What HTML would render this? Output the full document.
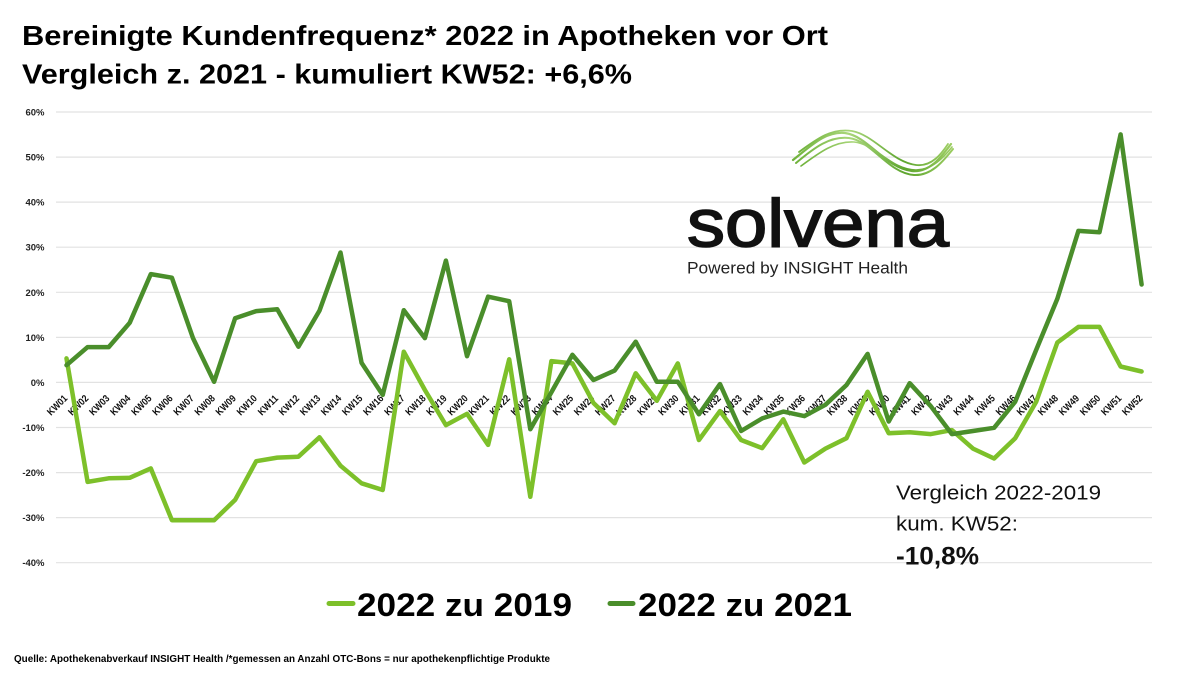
<!DOCTYPE html>
<html>
<head>
<meta charset="utf-8">
<style>
  html, body { margin: 0; padding: 0; background: #ffffff; }
  svg { display: block; }
  text { font-family: "Liberation Sans", sans-serif; }
</style>
</head>
<body>
<svg width="1200" height="675" viewBox="0 0 1200 675" xmlns="http://www.w3.org/2000/svg">
  <defs>
    <linearGradient id="wg" x1="0" y1="0" x2="1" y2="0">
      <stop offset="0" stop-color="#6fb23a"/>
      <stop offset="0.35" stop-color="#a9d67a"/>
      <stop offset="0.7" stop-color="#5da52e"/>
      <stop offset="1" stop-color="#9ccd62"/>
    </linearGradient>
  </defs>
  <rect width="1200" height="675" fill="#ffffff"/>

  <!-- Title -->
  <text x="22" y="45" font-size="28" font-weight="bold" fill="#000" textLength="806" lengthAdjust="spacingAndGlyphs">Bereinigte Kundenfrequenz* 2022 in Apotheken vor Ort</text>
  <text x="22" y="83.5" font-size="28" font-weight="bold" fill="#000" textLength="610" lengthAdjust="spacingAndGlyphs">Vergleich z. 2021 - kumuliert KW52: +6,6%</text>

  <!-- Gridlines -->
  <g stroke="#e2e2e2" stroke-width="1.2">
    <line x1="56" y1="112.0" x2="1152" y2="112.0"/>
    <line x1="56" y1="157.1" x2="1152" y2="157.1"/>
    <line x1="56" y1="202.1" x2="1152" y2="202.1"/>
    <line x1="56" y1="247.2" x2="1152" y2="247.2"/>
    <line x1="56" y1="292.3" x2="1152" y2="292.3"/>
    <line x1="56" y1="337.4" x2="1152" y2="337.4"/>
    <line x1="56" y1="382.4" x2="1152" y2="382.4"/>
    <line x1="56" y1="427.5" x2="1152" y2="427.5"/>
    <line x1="56" y1="472.6" x2="1152" y2="472.6"/>
    <line x1="56" y1="517.6" x2="1152" y2="517.6"/>
    <line x1="56" y1="562.7" x2="1152" y2="562.7"/>
  </g>

  <!-- Y labels -->
  <g font-size="9.5" font-weight="bold" fill="#222" text-anchor="end">
    <text x="44.5" y="115.5">60%</text>
    <text x="44.5" y="160.6">50%</text>
    <text x="44.5" y="205.6">40%</text>
    <text x="44.5" y="250.7">30%</text>
    <text x="44.5" y="295.8">20%</text>
    <text x="44.5" y="340.9">10%</text>
    <text x="44.5" y="385.9">0%</text>
    <text x="44.5" y="431.0">-10%</text>
    <text x="44.5" y="476.1">-20%</text>
    <text x="44.5" y="521.1">-30%</text>
    <text x="44.5" y="566.2">-40%</text>
  </g>

  <!-- Logo -->
  <g fill="none" stroke="url(#wg)" stroke-linecap="round">
    <path d="M793,160 C812,145 826,131 845,133 C868,136 885,168 912,171 C930,173 942,156 951,144" stroke-width="2.2"/>
    <path d="M796,163 C815,147 830,136 849,138 C872,141 888,173 914,175 C932,176 944,160 953,149" stroke-width="2"/>
    <path d="M799,152 C818,138 832,128 852,131 C874,135 892,162 916,165 C932,167 942,153 948,144" stroke-width="1.8"/>
    <path d="M801,166 C820,152 835,141 854,142 C876,144 891,170 916,170 C932,170 944,157 952,147" stroke-width="1.6"/>
  </g>
  <text x="687" y="246.7" font-size="68" fill="#111" stroke="#111" stroke-width="1.6" textLength="262" lengthAdjust="spacingAndGlyphs">solvena</text>
  <text x="687" y="273.5" font-size="16.5" fill="#222" textLength="221" lengthAdjust="spacingAndGlyphs">Powered by INSIGHT Health</text>

  <!-- X labels -->
  <g font-size="10" font-weight="bold" fill="#111" text-anchor="end">
    <text transform="translate(68.0,399) rotate(-45)" textLength="24" lengthAdjust="spacingAndGlyphs">KW01</text>
    <text transform="translate(89.1,399) rotate(-45)" textLength="24" lengthAdjust="spacingAndGlyphs">KW02</text>
    <text transform="translate(110.2,399) rotate(-45)" textLength="24" lengthAdjust="spacingAndGlyphs">KW03</text>
    <text transform="translate(131.2,399) rotate(-45)" textLength="24" lengthAdjust="spacingAndGlyphs">KW04</text>
    <text transform="translate(152.3,399) rotate(-45)" textLength="24" lengthAdjust="spacingAndGlyphs">KW05</text>
    <text transform="translate(173.4,399) rotate(-45)" textLength="24" lengthAdjust="spacingAndGlyphs">KW06</text>
    <text transform="translate(194.5,399) rotate(-45)" textLength="24" lengthAdjust="spacingAndGlyphs">KW07</text>
    <text transform="translate(215.6,399) rotate(-45)" textLength="24" lengthAdjust="spacingAndGlyphs">KW08</text>
    <text transform="translate(236.6,399) rotate(-45)" textLength="24" lengthAdjust="spacingAndGlyphs">KW09</text>
    <text transform="translate(257.7,399) rotate(-45)" textLength="24" lengthAdjust="spacingAndGlyphs">KW10</text>
    <text transform="translate(278.8,399) rotate(-45)" textLength="24" lengthAdjust="spacingAndGlyphs">KW11</text>
    <text transform="translate(299.9,399) rotate(-45)" textLength="24" lengthAdjust="spacingAndGlyphs">KW12</text>
    <text transform="translate(321.0,399) rotate(-45)" textLength="24" lengthAdjust="spacingAndGlyphs">KW13</text>
    <text transform="translate(342.0,399) rotate(-45)" textLength="24" lengthAdjust="spacingAndGlyphs">KW14</text>
    <text transform="translate(363.1,399) rotate(-45)" textLength="24" lengthAdjust="spacingAndGlyphs">KW15</text>
    <text transform="translate(384.2,399) rotate(-45)" textLength="24" lengthAdjust="spacingAndGlyphs">KW16</text>
    <text transform="translate(405.3,399) rotate(-45)" textLength="24" lengthAdjust="spacingAndGlyphs">KW17</text>
    <text transform="translate(426.4,399) rotate(-45)" textLength="24" lengthAdjust="spacingAndGlyphs">KW18</text>
    <text transform="translate(447.4,399) rotate(-45)" textLength="24" lengthAdjust="spacingAndGlyphs">KW19</text>
    <text transform="translate(468.5,399) rotate(-45)" textLength="24" lengthAdjust="spacingAndGlyphs">KW20</text>
    <text transform="translate(489.6,399) rotate(-45)" textLength="24" lengthAdjust="spacingAndGlyphs">KW21</text>
    <text transform="translate(510.7,399) rotate(-45)" textLength="24" lengthAdjust="spacingAndGlyphs">KW22</text>
    <text transform="translate(531.8,399) rotate(-45)" textLength="24" lengthAdjust="spacingAndGlyphs">KW23</text>
    <text transform="translate(552.9,399) rotate(-45)" textLength="24" lengthAdjust="spacingAndGlyphs">KW24</text>
    <text transform="translate(573.9,399) rotate(-45)" textLength="24" lengthAdjust="spacingAndGlyphs">KW25</text>
    <text transform="translate(595.0,399) rotate(-45)" textLength="24" lengthAdjust="spacingAndGlyphs">KW26</text>
    <text transform="translate(616.1,399) rotate(-45)" textLength="24" lengthAdjust="spacingAndGlyphs">KW27</text>
    <text transform="translate(637.2,399) rotate(-45)" textLength="24" lengthAdjust="spacingAndGlyphs">KW28</text>
    <text transform="translate(658.3,399) rotate(-45)" textLength="24" lengthAdjust="spacingAndGlyphs">KW29</text>
    <text transform="translate(679.3,399) rotate(-45)" textLength="24" lengthAdjust="spacingAndGlyphs">KW30</text>
    <text transform="translate(700.4,399) rotate(-45)" textLength="24" lengthAdjust="spacingAndGlyphs">KW31</text>
    <text transform="translate(721.5,399) rotate(-45)" textLength="24" lengthAdjust="spacingAndGlyphs">KW32</text>
    <text transform="translate(742.6,399) rotate(-45)" textLength="24" lengthAdjust="spacingAndGlyphs">KW33</text>
    <text transform="translate(763.7,399) rotate(-45)" textLength="24" lengthAdjust="spacingAndGlyphs">KW34</text>
    <text transform="translate(784.8,399) rotate(-45)" textLength="24" lengthAdjust="spacingAndGlyphs">KW35</text>
    <text transform="translate(805.8,399) rotate(-45)" textLength="24" lengthAdjust="spacingAndGlyphs">KW36</text>
    <text transform="translate(826.9,399) rotate(-45)" textLength="24" lengthAdjust="spacingAndGlyphs">KW37</text>
    <text transform="translate(848.0,399) rotate(-45)" textLength="24" lengthAdjust="spacingAndGlyphs">KW38</text>
    <text transform="translate(869.1,399) rotate(-45)" textLength="24" lengthAdjust="spacingAndGlyphs">KW39</text>
    <text transform="translate(890.2,399) rotate(-45)" textLength="24" lengthAdjust="spacingAndGlyphs">KW40</text>
    <text transform="translate(911.2,399) rotate(-45)" textLength="24" lengthAdjust="spacingAndGlyphs">KW41</text>
    <text transform="translate(932.3,399) rotate(-45)" textLength="24" lengthAdjust="spacingAndGlyphs">KW42</text>
    <text transform="translate(953.4,399) rotate(-45)" textLength="24" lengthAdjust="spacingAndGlyphs">KW43</text>
    <text transform="translate(974.5,399) rotate(-45)" textLength="24" lengthAdjust="spacingAndGlyphs">KW44</text>
    <text transform="translate(995.6,399) rotate(-45)" textLength="24" lengthAdjust="spacingAndGlyphs">KW45</text>
    <text transform="translate(1016.7,399) rotate(-45)" textLength="24" lengthAdjust="spacingAndGlyphs">KW46</text>
    <text transform="translate(1037.7,399) rotate(-45)" textLength="24" lengthAdjust="spacingAndGlyphs">KW47</text>
    <text transform="translate(1058.8,399) rotate(-45)" textLength="24" lengthAdjust="spacingAndGlyphs">KW48</text>
    <text transform="translate(1079.9,399) rotate(-45)" textLength="24" lengthAdjust="spacingAndGlyphs">KW49</text>
    <text transform="translate(1101.0,399) rotate(-45)" textLength="24" lengthAdjust="spacingAndGlyphs">KW50</text>
    <text transform="translate(1122.1,399) rotate(-45)" textLength="24" lengthAdjust="spacingAndGlyphs">KW51</text>
    <text transform="translate(1143.1,399) rotate(-45)" textLength="24" lengthAdjust="spacingAndGlyphs">KW52</text>
  </g>

  <!-- Series: 2022 zu 2019 (light) -->
  <polyline fill="none" stroke="#7dc02a" stroke-width="4.5" stroke-linejoin="round" stroke-linecap="round"
    points="66.5,358.4 87.6,481.9 108.7,478.3 129.7,477.8 150.8,468.4 171.9,520.2 193.0,520.2 214.1,520.2 235.1,499.9 256.2,461.2 277.3,457.6 298.4,456.7 319.5,437.3 340.5,465.7 361.6,483.3 382.7,490.0 403.8,351.7 424.9,390.0 445.9,425.1 467.0,413.8 488.1,444.9 509.2,359.3 530.3,496.8 551.4,361.1 572.4,363.4 593.5,403.0 614.6,423.3 635.7,373.3 656.8,400.8 677.8,363.4 698.9,440.0 720.0,411.1 741.1,440.0 762.2,448.1 783.3,419.3 804.3,462.5 825.4,448.6 846.5,438.2 867.6,391.8 888.7,433.2 909.7,432.3 930.8,434.1 951.9,430.1 973.0,448.6 994.1,458.5 1015.2,438.2 1036.2,401.7 1057.3,342.6 1078.4,326.9 1099.5,326.9 1120.6,366.5 1141.6,371.5"/>

  <!-- Series: 2022 zu 2021 (dark) -->
  <polyline fill="none" stroke="#4a8e2b" stroke-width="4.5" stroke-linejoin="round" stroke-linecap="round"
    points="66.5,365.2 87.6,347.1 108.7,347.1 129.7,322.8 150.8,274.1 171.9,277.7 193.0,338.1 214.1,381.8 235.1,318.3 256.2,311.1 277.3,309.3 298.4,346.7 319.5,310.6 340.5,252.5 361.6,362.9 382.7,394.9 403.8,310.2 424.9,338.1 445.9,260.6 467.0,356.2 488.1,296.7 509.2,301.2 530.3,429.2 551.4,392.2 572.4,354.8 593.5,380.0 614.6,370.6 635.7,341.7 656.8,381.8 677.8,381.8 698.9,414.3 720.0,384.1 741.1,431.0 762.2,418.4 783.3,411.6 804.3,416.1 825.4,404.8 846.5,385.0 867.6,353.9 888.7,421.5 909.7,383.2 930.8,406.2 951.9,434.1 973.0,431.0 994.1,427.8 1015.2,401.7 1036.2,349.9 1057.3,298.9 1078.4,230.9 1099.5,232.2 1120.6,134.4 1141.6,284.5"/>

  <!-- Annotation -->
  <text x="896" y="499.5" font-size="20" fill="#111" textLength="205" lengthAdjust="spacingAndGlyphs">Vergleich 2022-2019</text>
  <text x="896" y="530.5" font-size="20" fill="#111" textLength="122" lengthAdjust="spacingAndGlyphs">kum. KW52:</text>
  <text x="896" y="564.5" font-size="25" font-weight="bold" fill="#111" textLength="83" lengthAdjust="spacingAndGlyphs">-10,8%</text>

  <!-- Legend -->
  <line x1="329" y1="603.5" x2="353" y2="603.5" stroke="#7dc02a" stroke-width="5" stroke-linecap="round"/>
  <text x="357" y="616" font-size="32" font-weight="bold" fill="#000" textLength="215" lengthAdjust="spacingAndGlyphs">2022 zu 2019</text>
  <line x1="610" y1="603.5" x2="633" y2="603.5" stroke="#4a8e2b" stroke-width="5" stroke-linecap="round"/>
  <text x="638" y="616" font-size="32" font-weight="bold" fill="#000" textLength="214" lengthAdjust="spacingAndGlyphs">2022 zu 2021</text>

  <!-- Footer -->
  <text x="14" y="662" font-size="10" font-weight="bold" fill="#000" textLength="536" lengthAdjust="spacingAndGlyphs">Quelle: Apothekenabverkauf INSIGHT Health /*gemessen an Anzahl OTC-Bons = nur apothekenpflichtige Produkte</text>
</svg>
</body>
</html>
